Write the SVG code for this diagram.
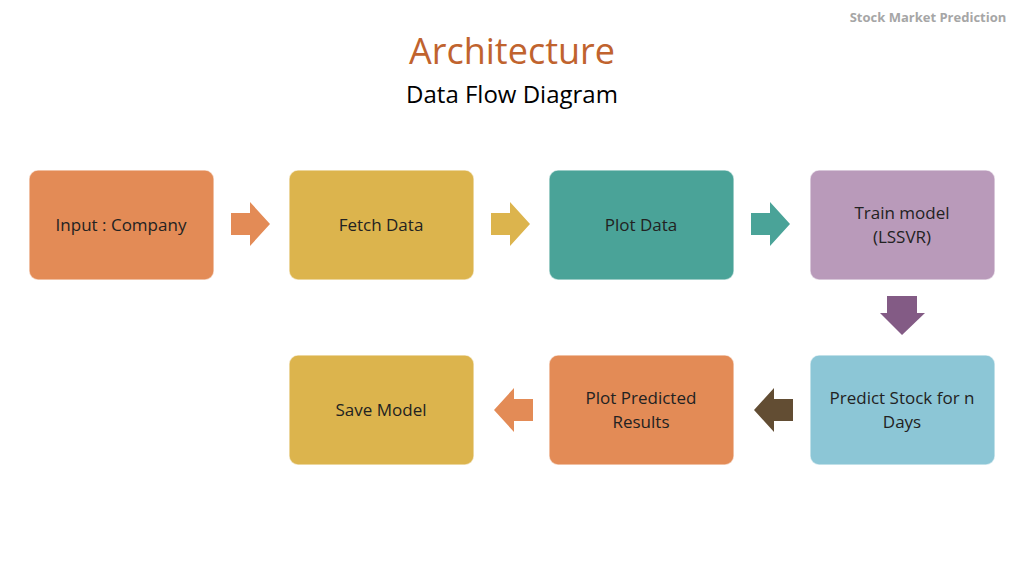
<svg xmlns="http://www.w3.org/2000/svg" width="1024" height="576" viewBox="0 0 1024 576">
<style>
text{font-family:"Open Sans","Liberation Sans",sans-serif;text-anchor:middle}
.n{font-size:17px;fill:#222}
.b{stroke:#fff;stroke-opacity:0.6;stroke-width:1.5}
</style>
<rect width="1024" height="576" fill="#fff"/>
<text x="928" y="22" font-size="13" font-weight="bold" fill="#a6a6a6">Stock Market Prediction</text>
<text x="512" y="64" font-size="36" fill="#c0632e">Architecture</text>
<text x="512" y="103" font-size="24" fill="#000">Data Flow Diagram</text>
<g id="n1"><rect class="b" x="29" y="170" width="185" height="110" rx="9" fill="#e38b56"/><text class="n" x="121" y="231">Input : Company</text></g>
<g id="n2"><rect class="b" x="289" y="170" width="185" height="110" rx="9" fill="#dcb44d"/><text class="n" x="381" y="231">Fetch Data</text></g>
<g id="n3"><rect class="b" x="549" y="170" width="185" height="110" rx="9" fill="#4aa398"/><text class="n" x="641" y="231">Plot Data</text></g>
<g id="n4"><rect class="b" x="810" y="170" width="185" height="110" rx="9" fill="#b99aba"/><text class="n" x="902" y="219">Train model</text><text class="n" x="902" y="243">(LSSVR)</text></g>
<g id="n5"><rect class="b" x="810" y="355" width="185" height="110" rx="9" fill="#8cc6d6"/><text class="n" x="902" y="404">Predict Stock for n</text><text class="n" x="902" y="428">Days</text></g>
<g id="n6"><rect class="b" x="549" y="355" width="185" height="110" rx="9" fill="#e38b56"/><text class="n" x="641" y="404">Plot Predicted</text><text class="n" x="641" y="428">Results</text></g>
<g id="n7"><rect class="b" x="289" y="355" width="185" height="110" rx="9" fill="#dcb44d"/><text class="n" x="381" y="416">Save Model</text></g>
<g id="connectors">
<polygon points="231,213 250,213 250,202 270,224 250,246 250,235 231,235" fill="#e38b56"/>
<polygon points="491,213 510,213 510,202 530,224 510,246 510,235 491,235" fill="#dcb44d"/>
<polygon points="751,213 770,213 770,202 790,224 770,246 770,235 751,235" fill="#4aa398"/>
<polygon points="887,296 917,296 917,313 925,313 902,335 880,313 887,313" fill="#835b85"/>
<polygon points="793,399 774,399 774,388 754,410 774,432 774,421 793,421" fill="#624d33"/>
<polygon points="533,399 514,399 514,388 494,410 514,432 514,421 533,421" fill="#e38b56"/>
</g>
</svg>
